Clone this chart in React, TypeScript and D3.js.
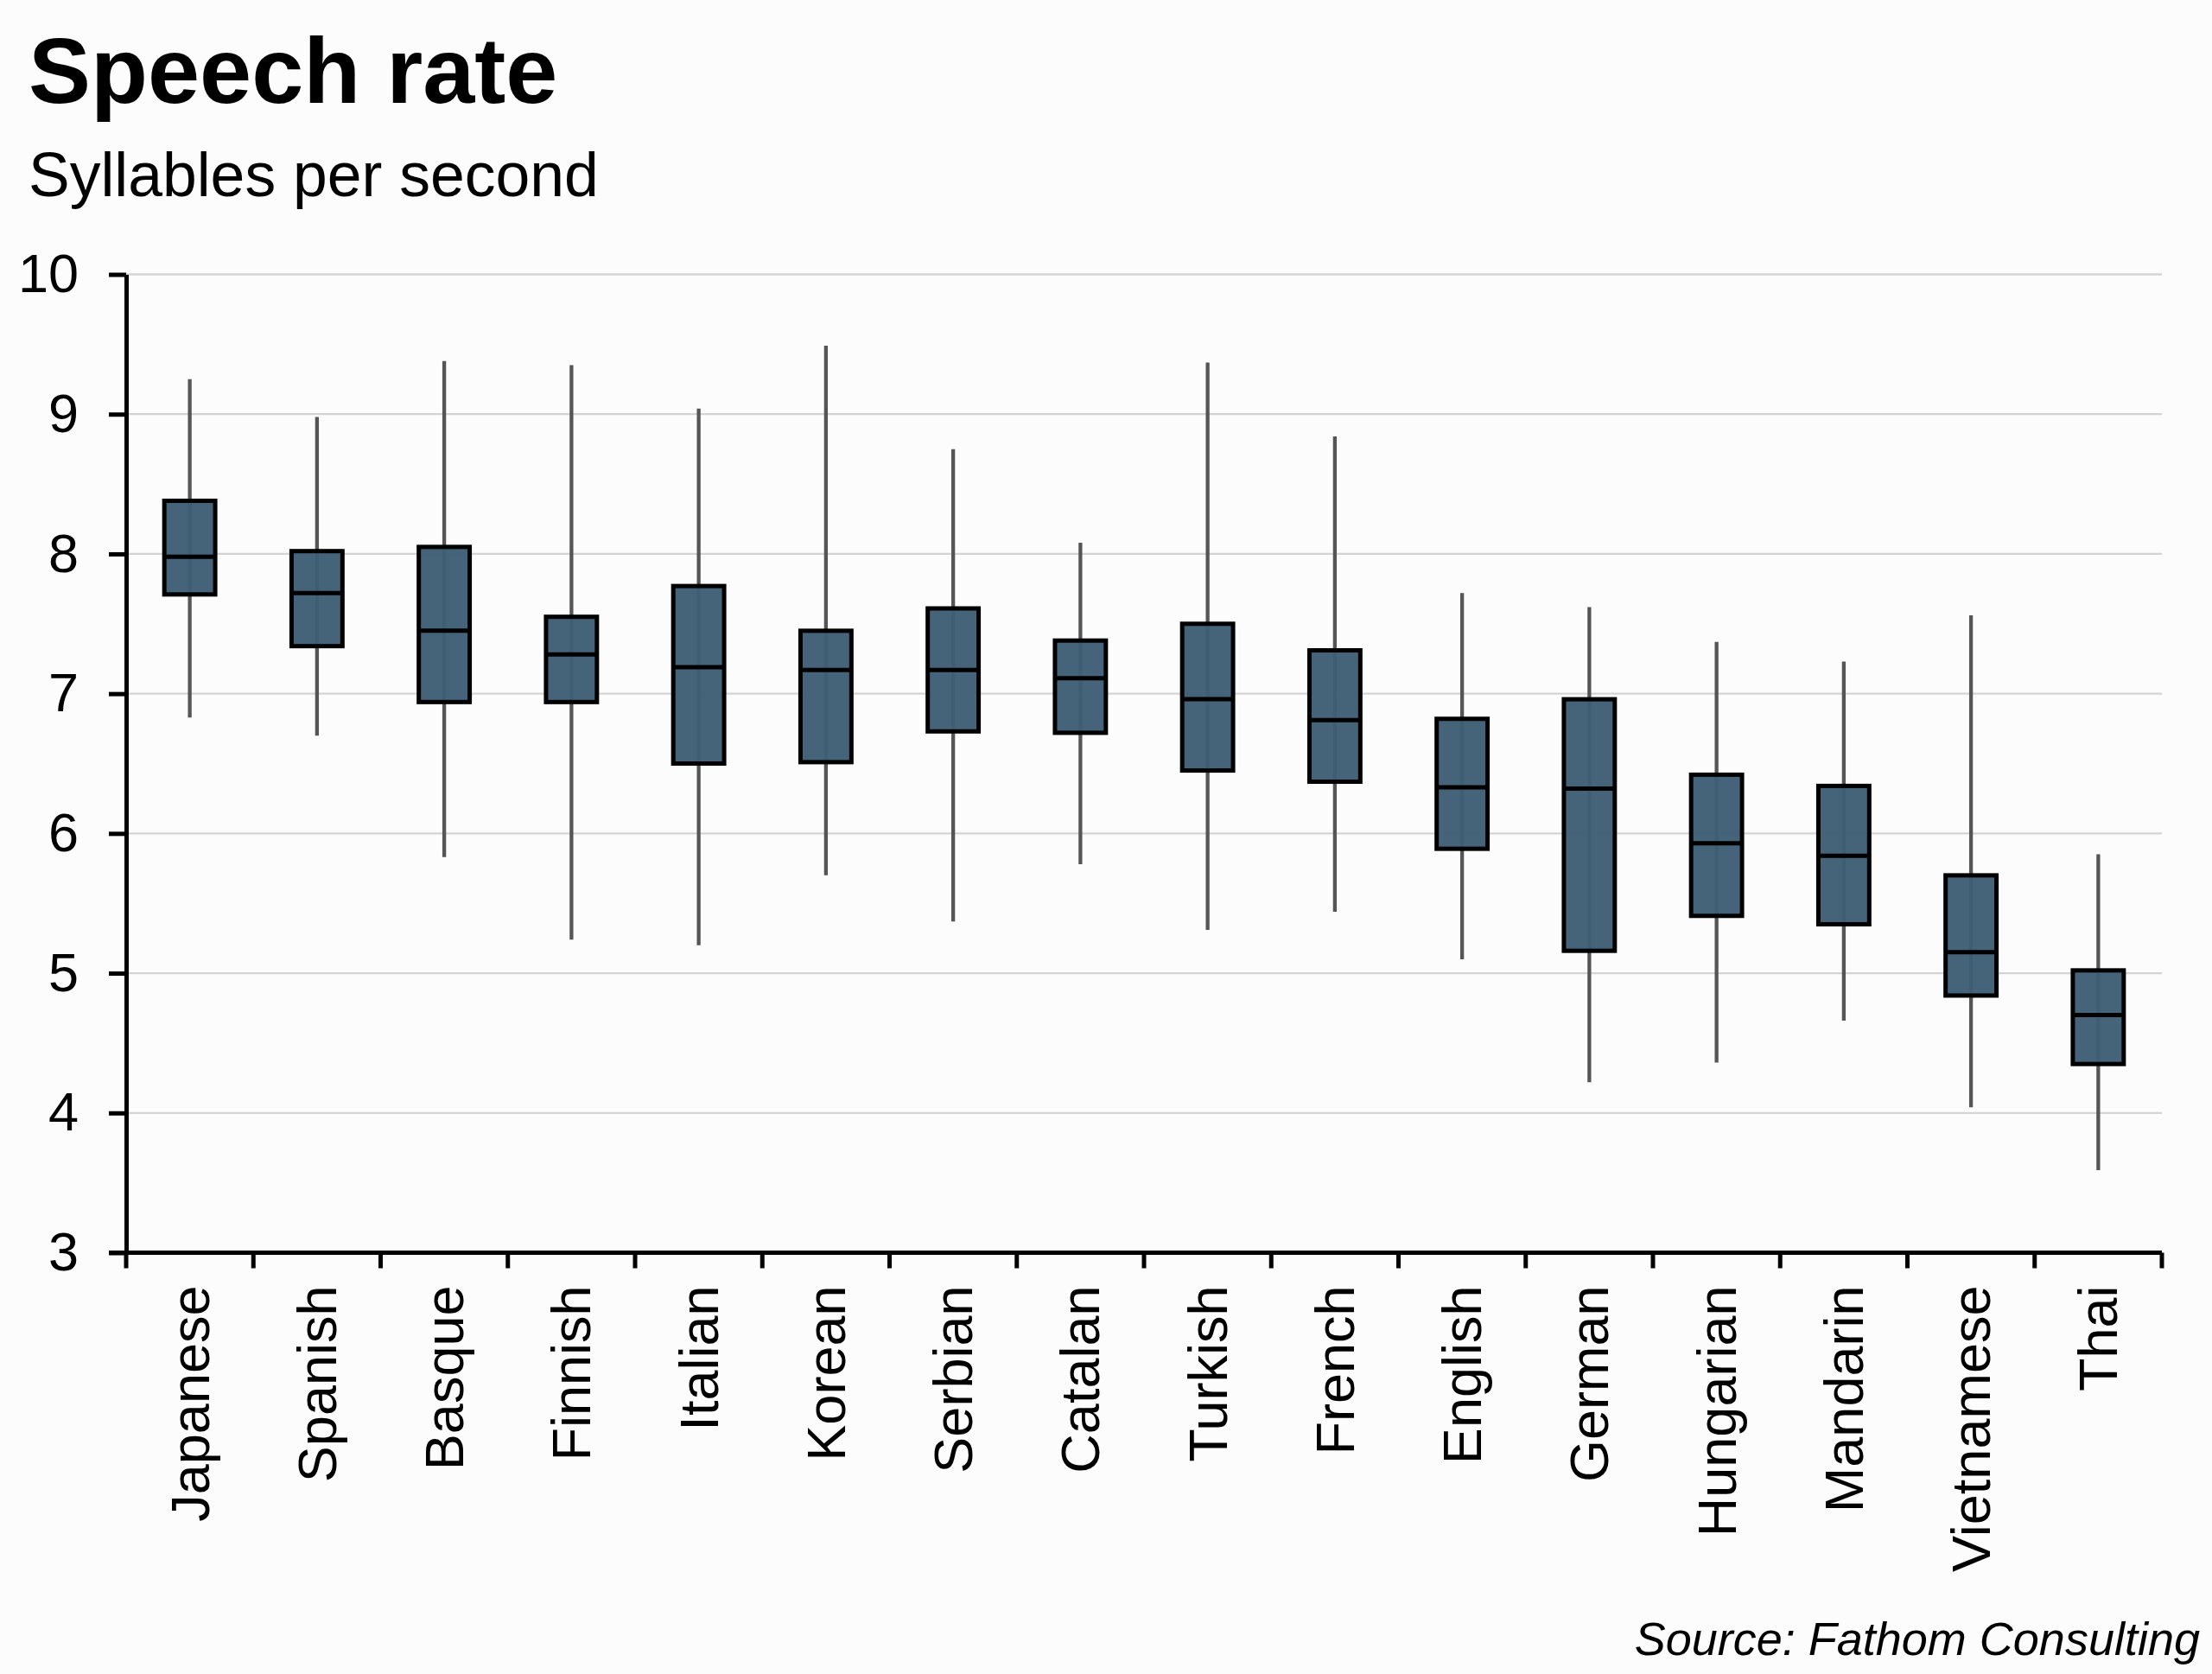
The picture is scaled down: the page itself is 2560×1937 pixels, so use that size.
import React, { useRef, useEffect } from 'react'
import * as d3 from 'd3'

// syllables per second, sorted by median
const languages = ['Japanese', 'Spanish', 'Basque', 'Finnish', 'Italian', 'Korean', 'Serbian', 'Catalan',
    'Turkish', 'French', 'English', 'German', 'Hungarian', 'Mandarin', 'Vietnamese', 'Thai']
const whiskerHigh = [9.25, 8.98, 9.38, 9.35, 9.04, 9.49, 8.75, 8.08, 9.37, 8.84, 7.72, 7.62, 7.37, 7.23, 7.56, 5.85]
const upperQuartile = [8.38, 8.02, 8.05, 7.55, 7.77, 7.45, 7.61, 7.38, 7.50, 7.31, 6.82, 6.96, 6.42, 6.34, 5.70, 5.02]
const median = [7.98, 7.72, 7.45, 7.28, 7.19, 7.17, 7.17, 7.11, 6.96, 6.81, 6.33, 6.32, 5.93, 5.84, 5.15, 4.70]
const lowerQuartile = [7.71, 7.34, 6.94, 6.94, 6.50, 6.51, 6.73, 6.72, 6.45, 6.37, 5.89, 5.16, 5.41, 5.35, 4.84, 4.35]
const whiskerLow = [6.83, 6.70, 5.83, 5.24, 5.20, 5.70, 5.37, 5.78, 5.31, 5.44, 5.10, 4.22, 4.36, 4.66, 4.04, 3.59]
const yTicks = [3, 4, 5, 6, 7, 8, 9, 10]

const FONT = '"Liberation Sans", Arial, Helvetica, sans-serif'

const App = () => {
    const ref = useRef<SVGSVGElement>(null)

    useEffect(() => {
        const w = 2560
        const h = 1937
        const left = 146
        const right = 2502
        const top = 317.5
        const bottom = 1449.5

        const svg = d3.select(ref.current)
        svg.selectAll('*').remove()
        svg.attr('width', w).attr('height', h)

        svg.append('rect').attr('width', w).attr('height', h).attr('fill', '#fcfcfc')

        const x = d3.scaleBand<string>().domain(languages).range([left, right]).padding(0)
        const y = d3.scaleLinear().domain([3, 10]).range([bottom, top])

        // titles
        svg.append('text')
            .attr('x', 33).attr('y', 119)
            .style('font-family', FONT).style('font-weight', 'bold').style('font-size', '108px')
            .text('Speech rate')
        svg.append('text')
            .attr('x', 33).attr('y', 227)
            .style('font-family', FONT).style('font-size', '71.5px')
            .text('Syllables per second')

        // horizontal grid
        svg.append('g')
            .selectAll('line')
            .data(yTicks.filter(d => d > 3))
            .join('line')
            .attr('x1', left).attr('x2', right)
            .attr('y1', d => y(d)).attr('y2', d => y(d))
            .attr('stroke', '#d4d4d4').attr('stroke-width', 2.3)

        // y axis
        const yAxis = d3.axisLeft(y)
            .tickValues(yTicks)
            .tickFormat(d3.format('d'))
            .tickSize(20)
            .tickSizeOuter(0)
            .tickPadding(35)
        const gy = svg.append('g').attr('transform', `translate(${left},0)`).call(yAxis)
        gy.select('.domain').attr('stroke', '#000').attr('stroke-width', 5)
        gy.selectAll('.tick line').attr('stroke', '#000').attr('stroke-width', 5)
        gy.selectAll('.tick text')
            .attr('fill', '#000')
            .style('font-family', FONT).style('font-size', '63px')

        // boxes
        const bw = x.bandwidth() * 0.4
        const boxes = svg.append('g')
            .selectAll('g')
            .data(languages.map((lang, i) => ({
                lang, hi: whiskerHigh[i], q3: upperQuartile[i], med: median[i], q1: lowerQuartile[i], lo: whiskerLow[i]
            })))
            .join('g')
            .attr('transform', d => `translate(${x(d.lang)! + x.bandwidth() / 2},0)`)

        boxes.append('line')
            .attr('y1', d => y(d.hi)).attr('y2', d => y(d.lo))
            .attr('stroke', '#555').attr('stroke-width', 4.3)
        boxes.append('rect')
            .attr('x', -bw / 2).attr('width', bw)
            .attr('y', d => y(d.q3)).attr('height', d => y(d.q1) - y(d.q3))
            .attr('fill', '#3f5e75').attr('fill-opacity', 0.97)
            .attr('stroke', '#000').attr('stroke-width', 5)
        boxes.append('line')
            .attr('x1', -bw / 2).attr('x2', bw / 2)
            .attr('y1', d => y(d.med)).attr('y2', d => y(d.med))
            .attr('stroke', '#000').attr('stroke-width', 5)

        // x axis with ticks between categories
        svg.append('line')
            .attr('x1', left - 20).attr('x2', right)
            .attr('y1', bottom).attr('y2', bottom)
            .attr('stroke', '#000').attr('stroke-width', 5)
        svg.append('g')
            .selectAll('line')
            .data(d3.range(languages.length + 1))
            .join('line')
            .attr('x1', i => left + i * x.step()).attr('x2', i => left + i * x.step())
            .attr('y1', bottom).attr('y2', bottom + 18)
            .attr('stroke', '#000').attr('stroke-width', 5)

        svg.append('g')
            .selectAll('text')
            .data(languages)
            .join('text')
            .attr('transform', d => `translate(${x(d)! + x.bandwidth() / 2},${bottom + 38}) rotate(-90)`)
            .attr('text-anchor', 'end')
            .attr('dy', '0.35em')
            .style('font-family', FONT).style('font-size', '63px')
            .text(d => d)

        // source note
        svg.append('text')
            .attr('x', 2546).attr('y', 1915)
            .attr('text-anchor', 'end')
            .style('font-family', FONT).style('font-style', 'italic').style('font-size', '54px')
            .text('Source: Fathom Consulting')
    }, [])

    return (
        <div>
            <svg ref={ref} style={{ position: 'absolute', left: 0, top: 0, display: 'block' }}></svg>
        </div>
    )
}

export default App
